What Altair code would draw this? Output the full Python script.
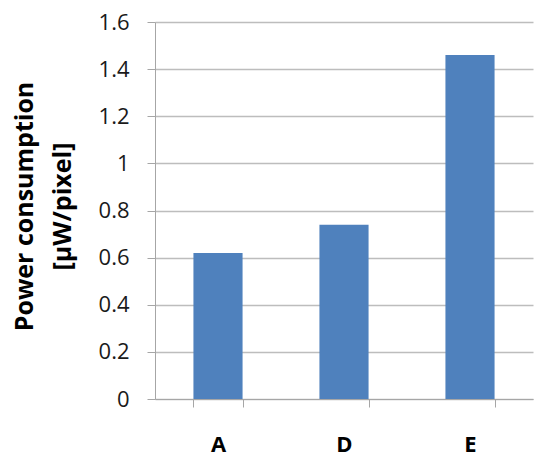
import altair as alt
import pandas as pd

categories = ["A", "D", "E"]
power = [0.62, 0.74, 1.46]
y_ticks = [0, 0.2, 0.4, 0.6, 0.8, 1.0, 1.2, 1.4, 1.6]

df = pd.DataFrame({"cat": categories, "power": power})

FONT = "Open Sans"

chart = alt.Chart(df).mark_bar(color="#4f81bd").encode(
    x=alt.X(
        "cat:N",
        sort=categories,
        scale=alt.Scale(paddingInner=0.61, paddingOuter=0.305),
        axis=alt.Axis(
            title=None,
            labelAngle=0,
            labelFont=FONT,
            labelFontSize=22,
            labelFontWeight="bold",
            labelColor="#000000",
            labelPadding=27,
            labelBaseline="top",
            tickBand="extent",
            tickSize=8,
            tickColor="#a6a6a6",
            domainColor="#a6a6a6",
            grid=False,
        ),
    ),
    y=alt.Y(
        "power:Q",
        scale=alt.Scale(domain=[0, 1.6], nice=False),
        axis=alt.Axis(
            values=y_ticks,
            format="~g",
            title=["Power consumption", "[µW/pixel]"],
            titleFont=FONT,
            titleFontSize=25,
            titleFontWeight="bold",
            titleColor="#000000",
            titleAngle=-90,
            titleAlign="center",
            titleBaseline="alphabetic",
            titleLineHeight=38,
            titleX=-123,
            titleY=184,
            labelFont=FONT,
            labelFontSize=22,
            labelColor="#1a1a1a",
            labelPadding=18,
            tickSize=8,
            tickColor="#a6a6a6",
            domainColor="#a6a6a6",
            grid=True,
            gridColor="#bdbdbd",
            gridWidth=1.5,
        ),
    ),
).properties(
    width=378,
    height=377,
    autosize=alt.AutoSizeParams(type="none"),
    padding={"left": 147, "top": 14, "right": 9, "bottom": 58},
).configure_view(stroke=None)

chart.save("out.html", embed_options={"renderer": "svg", "actions": False})
